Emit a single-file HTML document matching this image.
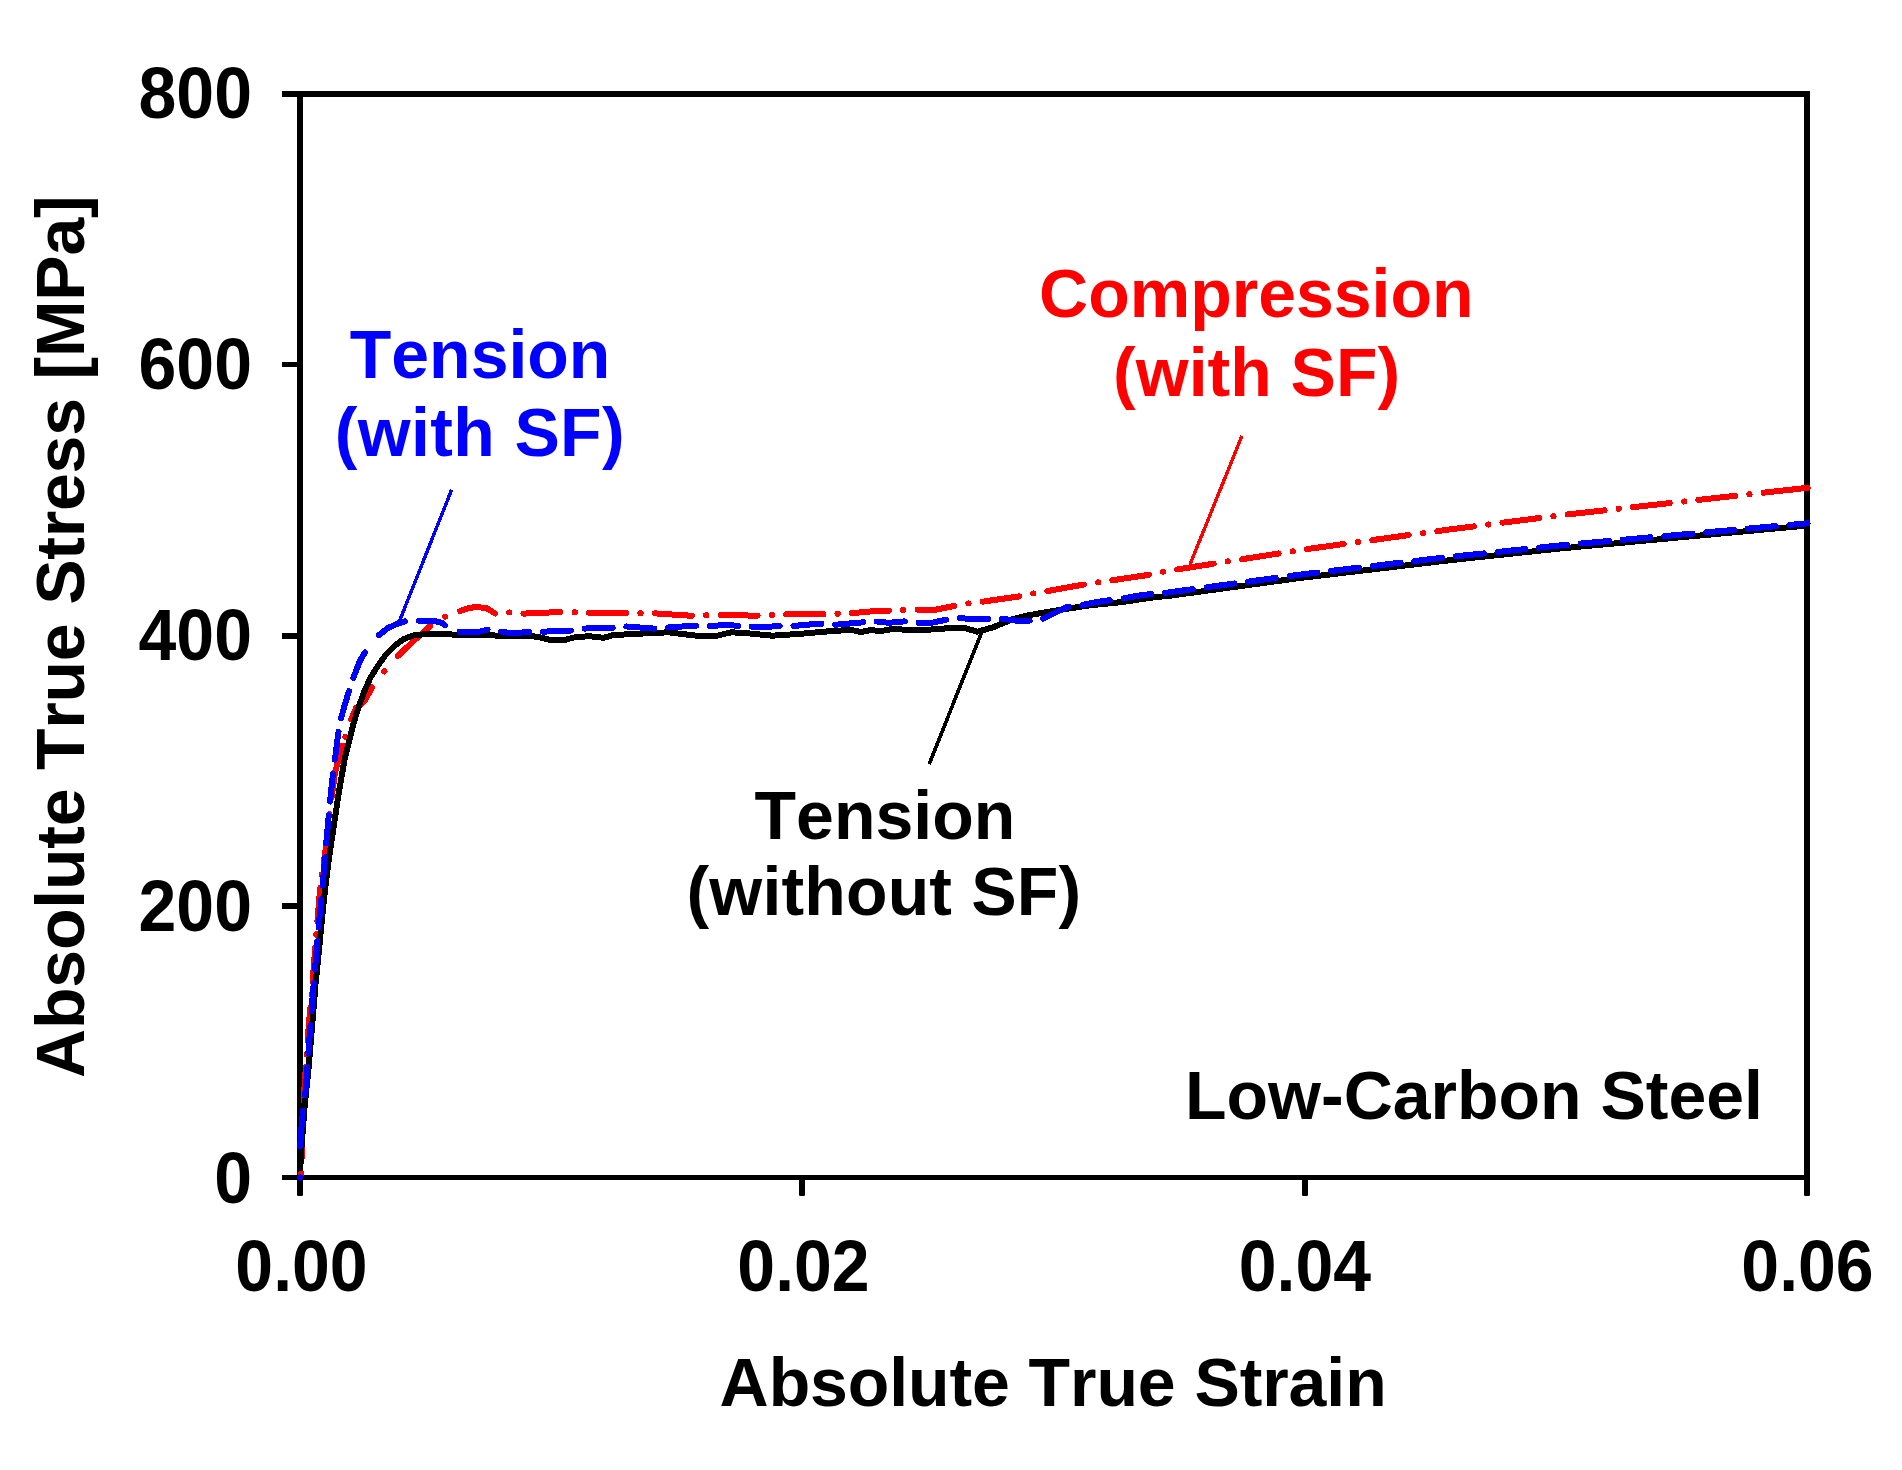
<!DOCTYPE html>
<html lang="en">
<head>
<meta charset="utf-8">
<title>Absolute True Stress vs Absolute True Strain - Low-Carbon Steel</title>
<style>
html,body{margin:0;padding:0;background:#fff;}
body{width:1902px;height:1470px;overflow:hidden;}
svg{display:block;}
text{font-family:"Liberation Sans", Arial, Helvetica, sans-serif;font-weight:700;font-size:68px;font-kerning:none;font-variant-ligatures:none;}
.c{text-anchor:middle;}
.e{text-anchor:end;}
</style>
</head>
<body>
<svg width="1902" height="1470" viewBox="0 0 1902 1470">
<rect x="0" y="0" width="1902" height="1470" fill="#ffffff"/>
<!-- plot frame -->
<g fill="#000" shape-rendering="crispEdges">
<rect x="297" y="91" width="1513" height="6"/>
<rect x="297" y="1175" width="1513" height="5"/>
<rect x="297" y="91" width="6" height="1089"/>
<rect x="1804" y="91" width="6" height="1089"/>
</g>
<!-- ticks -->
<g fill="#000" shape-rendering="crispEdges">
<rect x="282" y="91" width="16" height="6" rx="1"/>
<rect x="282" y="362" width="16" height="5"/>
<rect x="282" y="633" width="16" height="6"/>
<rect x="282" y="903" width="16" height="6"/>
<rect x="282" y="1175" width="16" height="5"/>
</g>
<g fill="#000">
<rect x="297" y="1178" width="6" height="18" rx="1.2"/>
<rect x="799" y="1178" width="6" height="18" rx="1.2"/>
<rect x="1302" y="1178" width="6" height="18" rx="1.2"/>
<rect x="1804" y="1178" width="6" height="18" rx="1.2"/>
</g>
<!-- y tick labels -->
<g class="e">
<text transform="translate(252,117.8) scale(1,1.055)">800</text>
<text transform="translate(252,388.8) scale(1,1.055)">600</text>
<text transform="translate(252,659.8) scale(1,1.055)">400</text>
<text transform="translate(252,930.8) scale(1,1.055)">200</text>
<text transform="translate(252,1202.8) scale(1,1.055)">0</text>
</g>
<!-- x tick labels -->
<g class="c">
<text transform="translate(301.5,1290.8) scale(1,1.055)">0.00</text>
<text transform="translate(803.5,1290.8) scale(1,1.055)">0.02</text>
<text transform="translate(1304.9,1290.8) scale(1,1.055)">0.04</text>
<text transform="translate(1807.5,1290.8) scale(1,1.055)">0.06</text>
</g>
<!-- axis titles -->
<text class="c" transform="translate(1053.1,1405.7) scale(1,1.012)" letter-spacing="-0.08">Absolute True Strain</text>
<text class="c" transform="translate(83.8,636.7) rotate(-90) scale(1,1.012)" letter-spacing="-0.2">Absolute True Stress [MPa]</text>
<!-- curves -->
<g fill="none" stroke-linejoin="round" stroke-linecap="round" stroke-width="6" shape-rendering="crispEdges">
<g stroke="#ff0000">
<path stroke-dasharray="34 12.7 0.6 12.7" stroke-dashoffset="43.35" d="M301.2,1177.5 L301.5,1160.0 L303.8,1098.0 L306.3,1060.8 L308.8,1025.0 L311.5,996.7 L314.6,955.9 L317.3,923.2 L319.9,892.0 L322.2,872.0 L325.3,852.0 L327.9,828.0"/>
<path d="M331.5,798.0 L332.2,793.0 L335.0,772.6 L341.0,750.0 L342.4,745.6"/>
<path d="M329.4,814.5 l0.1,-0.3 M345.2,737 l0.1,-0.3 M384.2,671.5 l0.2,-0.2 M445,616.8 l0.3,-0.1"/>
<path d="M351.2,719.3 L356.2,707.8 L364.1,701.5 L372.1,687.5"/>
<path d="M397.9,656.0 L413.0,641.5 L430.3,625.8"/>
<path stroke-dasharray="37.1 14.17 0.3 14.17" d="M460.2,611.0 L467.0,608.5 L476.1,606.8 L487.2,608.4 L495.8,613.9 L502.0,613.5 L510.0,612.3 L523.4,613.6 L561.3,612.0 L575.5,612.3 L589.5,612.9 L625.7,612.9 L654.1,613.3 L690.4,615.7 L718.8,614.9 L756.7,615.7 L785.0,614.1 L821.3,614.4 L849.7,613.3 L870.0,611.5 L887.4,610.7 L915.7,609.6 L936.2,609.6 L952.0,606.4 L966.7,603.6 L980.4,602.0 L1018.3,596.5 L1032.0,593.7 L1045.9,591.3 L1082.9,584.7 L1097.1,582.6 L1111.3,580.4 L1148.4,574.9 L1162.6,571.7 L1304.7,549.4 L1450.0,529.4 L1566.3,514.6 L1807.6,487.8"/>
<path d="M1790,489.8 L1807.6,487.8"/>
</g>
<path stroke="#000000" d="M300.3,1168.5 L300.8,1156.0 L304.5,1108.0 L308.8,1066.0 L311.3,1035.0 L314.3,1000.0 L315.1,988.5 L318.4,955.9 L321.6,923.2 L324.9,890.6 L329.0,857.9 L333.9,825.3 L338.8,792.6 L344.5,760.0 L348.4,744.0 L353.1,725.1 L357.8,709.3 L364.1,692.0 L370.4,677.8 L378.3,665.2 L386.2,654.1 L394.1,646.2 L403.6,639.1 L413.0,635.5 L425.6,634.1 L446.2,634.4 L485.6,635.2 L510.8,636.0 L534.5,636.5 L541.0,637.6 L548.7,639.6 L557.0,640.0 L566.0,639.6 L572.0,638.0 L577.0,636.8 L590.0,636.3 L603.7,637.8 L613.1,635.1 L643.1,633.5 L668.3,632.3 L682.0,634.0 L696.7,635.7 L717.2,635.7 L724.0,634.0 L731.4,632.3 L745.6,633.1 L772.4,635.7 L800.8,633.8 L832.4,631.0 L851.3,629.9 L860.8,632.0 L870.0,630.2 L881.8,630.9 L893.7,628.8 L906.3,629.9 L929.9,629.6 L955.2,627.7 L964.6,628.0 L977.3,631.7 L993.0,627.3 L1000.9,624.1 L1012.0,619.4 L1027.7,615.4 L1059.3,609.9 L1090.8,605.2 L1122.4,602.0 L1153.9,597.3 L1170.0,595.7 L1300.0,578.0 L1450.0,560.2 L1560.0,548.5 L1796.6,526.5 L1807.0,525.5"/>
<g stroke="#0000ff">
<path d="M300,1177.5 l0.1,-0.3"/>
<path d="M300.2,1146.0 L301.2,1130.0 L303.0,1111.2"/>
<path stroke-dasharray="28.1 13.99" d="M305.0,1095.1 L305.7,1090.0 L307.4,1066.0 L309.7,1035.0 L312.6,996.7 L316.1,955.9 L318.9,923.2 L322.9,882.4 L326.4,841.6 L329.8,804.0 L332.6,777.0 L335.7,753.5 L338.1,734.6 L340.5,720.4 L344.4,706.2 L348.4,692.8 L353.1,678.6 L359.4,662.0 L365.7,651.0 L371.1,644.1"/>
<path d="M378.7,635.3 L387.8,628.1 L398.0,623.5 L404.7,621.4"/>
<path d="M419.0,620.7 L435.1,621.0 L443.0,623.4 L444.8,625.2"/>
<path stroke-dasharray="28.1 13.78" d="M459.7,631.7 L479.3,631.7 L487.2,629.7 L499.8,631.3 L510.8,633.3 L529.7,632.0 L542.4,631.7 L570.8,630.5 L581.6,628.6 L611.5,628.0 L625.7,626.4 L654.1,628.6 L667.5,627.5 L695.1,625.6 L708.5,626.0 L729.8,624.9 L737.7,626.0 L750.3,626.4 L759.8,627.5 L778.7,626.0 L792.9,626.0 L819.7,623.6 L833.9,624.9 L860.8,622.5 L874.7,621.3 L888.9,622.8 L903.9,621.4 L917.3,622.8 L931.5,622.8 L945.7,619.8 L958.3,617.8 L974.1,619.4 L987.5,619.0 L1000.9,618.6 L1018.3,620.9 L1029.3,620.6 L1041.9,619.4 L1054.5,613.0 L1067.2,607.0 L1081.4,605.2 L1094.0,602.5 L1108.2,600.4 L1122.4,598.5 L1138.1,595.7 L1150.8,594.1 L1165.0,592.9 L1300.0,574.6 L1441.8,557.8 L1560.0,545.4 L1807.6,523.3"/>
</g>
</g>
<!-- leader lines -->
<g fill="none" stroke-width="3.4" stroke-linecap="butt" shape-rendering="crispEdges">
<line stroke="#0000ff" x1="451.6" y1="489.8" x2="399.6" y2="620.8"/>
<line stroke="#ff0000" x1="1241.9" y1="436" x2="1189.8" y2="565"/>
<line stroke="#000000" stroke-width="3.7" x1="981.4" y1="633" x2="929.2" y2="764"/>
</g>
<!-- annotations -->
<g class="c" fill="#0000ff">
<text transform="translate(480.1,378.1) scale(1,1.012)">Tension</text>
<text transform="translate(479.9,455.5) scale(1,1.012)" letter-spacing="0.35">(with SF)</text>
</g>
<g class="c" fill="#ff0000">
<text transform="translate(1256.3,316.5) scale(1,1.012)">Compression</text>
<text transform="translate(1256.6,396) scale(1,1.012)">(with SF)</text>
</g>
<g class="c" fill="#000000">
<text transform="translate(884.9,838.9) scale(1,1.012)">Tension</text>
<text transform="translate(883.9,915.4) scale(1,1.012)" letter-spacing="0.17">(without SF)</text>
<text transform="translate(1474,1119.1) scale(1,1.012)">Low-Carbon Steel</text>
</g>
</svg>
</body>
</html>
